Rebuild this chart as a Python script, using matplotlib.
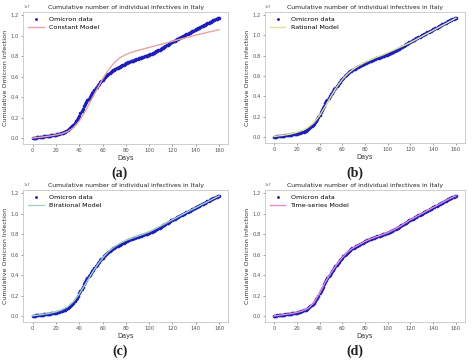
import numpy as np
import matplotlib
matplotlib.use('Agg')
import matplotlib.pyplot as plt

# cumulative omicron infections in Italy, units of 1e7, day 0..160
omicron = [
    0.000, 0.002, 0.003, 0.005, 0.006, 0.008, 0.009, 0.011, 0.012, 0.013, 0.015,
    0.016, 0.018, 0.019, 0.021, 0.023, 0.025, 0.027, 0.029, 0.031, 0.034,
    0.037, 0.040, 0.043, 0.046, 0.050, 0.054, 0.058, 0.063, 0.068, 0.075,
    0.085, 0.095, 0.105, 0.115, 0.128, 0.145, 0.162, 0.180, 0.200, 0.220,
    0.242, 0.264, 0.286, 0.308, 0.330, 0.350, 0.368, 0.386, 0.403, 0.420,
    0.437, 0.453, 0.469, 0.485, 0.500, 0.515, 0.530, 0.545, 0.558, 0.571,
    0.584, 0.596, 0.607, 0.618, 0.628, 0.637, 0.645, 0.653, 0.661, 0.668,
    0.674, 0.680, 0.686, 0.692, 0.698, 0.704, 0.710, 0.716, 0.722, 0.728,
    0.733, 0.738, 0.743, 0.748, 0.753, 0.757, 0.761, 0.765, 0.769, 0.773,
    0.777, 0.781, 0.785, 0.789, 0.793, 0.797, 0.801, 0.805, 0.809, 0.813,
    0.818, 0.823, 0.828, 0.834, 0.840, 0.846, 0.852, 0.858, 0.864, 0.870,
    0.877, 0.884, 0.891, 0.898, 0.905, 0.912, 0.919, 0.926, 0.933, 0.940,
    0.946, 0.952, 0.958, 0.964, 0.970, 0.976, 0.982, 0.988, 0.994, 1.000,
    1.006, 1.012, 1.018, 1.024, 1.030, 1.036, 1.042, 1.048, 1.054, 1.060,
    1.066, 1.072, 1.078, 1.084, 1.090, 1.096, 1.102, 1.108, 1.114, 1.120,
    1.126, 1.132, 1.138, 1.144, 1.149, 1.154, 1.159, 1.164, 1.168, 1.173,
]
days = list(range(len(omicron)))

# model curves sampled every 5 days
model_days = list(range(0, 161, 5))
constant_model = [0.000, 0.006, 0.012, 0.020, 0.030, 0.042, 0.062, 0.100, 0.165,
                  0.255, 0.365, 0.470, 0.575, 0.665, 0.735, 0.785, 0.815, 0.838,
                  0.855, 0.870, 0.885, 0.900, 0.915, 0.930, 0.945, 0.960, 0.975,
                  0.990, 1.005, 1.018, 1.032, 1.045, 1.058]
rational_model = [0.005, 0.012, 0.020, 0.030, 0.045, 0.065, 0.095, 0.140, 0.210,
                  0.300, 0.400, 0.490, 0.565, 0.625, 0.670, 0.705, 0.735, 0.760,
                  0.785, 0.805, 0.830, 0.855, 0.880, 0.905, 0.930, 0.960, 0.990,
                  1.020, 1.050, 1.080, 1.110, 1.140, 1.170]
birational_model = [0.002, 0.009, 0.017, 0.027, 0.040, 0.060, 0.090, 0.140, 0.215,
                    0.305, 0.400, 0.490, 0.565, 0.630, 0.675, 0.710, 0.738, 0.760,
                    0.780, 0.800, 0.822, 0.850, 0.880, 0.910, 0.940, 0.970, 1.000,
                    1.030, 1.058, 1.088, 1.115, 1.145, 1.172]
timeseries_model = [0.000, 0.008, 0.015, 0.023, 0.034, 0.050, 0.075, 0.128, 0.220,
                    0.330, 0.420, 0.500, 0.571, 0.628, 0.668, 0.698, 0.728, 0.753,
                    0.773, 0.793, 0.813, 0.840, 0.870, 0.905, 0.940, 0.970, 1.000,
                    1.030, 1.060, 1.090, 1.120, 1.149, 1.173]

panels = [
    ('Constant Model', constant_model, '#e9a3a0', '(a)'),
    ('Rational Model', rational_model, '#dde39a', '(b)'),
    ('Birational Model', birational_model, '#a3d2c0', '(c)'),
    ('Time-series Model', timeseries_model, '#e58ad0', '(d)'),
]
positions = [
    [0.049, 0.601, 0.433, 0.366],
    [0.559, 0.604, 0.422, 0.363],
    [0.049, 0.108, 0.433, 0.366],
    [0.559, 0.108, 0.422, 0.366],
]
label_xy = [(0.253, 0.52), (0.749, 0.52), (0.253, 0.028), (0.749, 0.028)]

fig = plt.figure(figsize=(4.74, 3.61), dpi=100)
y_data = np.array(omicron) * 1e7

for (name, model, col, tag), pos, lxy in zip(panels, positions, label_xy):
    ax = fig.add_axes(pos)
    ax.plot(days, y_data, 'o', color='#1e1eb8', ms=2.6, mew=0, label='Omicron data')
    ax.plot(model_days, np.array(model) * 1e7, color=col, lw=1.0, label=name)
    ax.set_xticks(range(0, 161, 20))
    ax.set_yticks(np.arange(0, 1.21, 0.2) * 1e7)
    ax.tick_params(labelsize=3.8, colors='#555555', length=1.5, width=0.4, pad=1.5)
    ax.yaxis.get_offset_text().set_fontsize(2.5)
    for sp in ax.spines.values():
        sp.set_color('#bbbbbb')
        sp.set_linewidth(0.5)
    ax.set_title('Cumulative number of individual infectives in Italy',
                 fontsize=4.4, pad=2, color='#222222')
    ax.set_xlabel('Days', fontsize=4.8, labelpad=1, color='#333333')
    ax.set_ylabel('Cumulative Omicron Infection', fontsize=4.6, labelpad=2, color='#333333')
    ax.legend(loc='upper left', fontsize=4.6, frameon=False, handlelength=2.4,
              borderaxespad=0.4, labelspacing=0.3, markerscale=0.8)
    fig.text(lxy[0], lxy[1], tag, ha='center', va='center', fontsize=10,
             family='Liberation Serif', weight='bold', color='#222222')

fig.savefig('out.png', dpi=100)
